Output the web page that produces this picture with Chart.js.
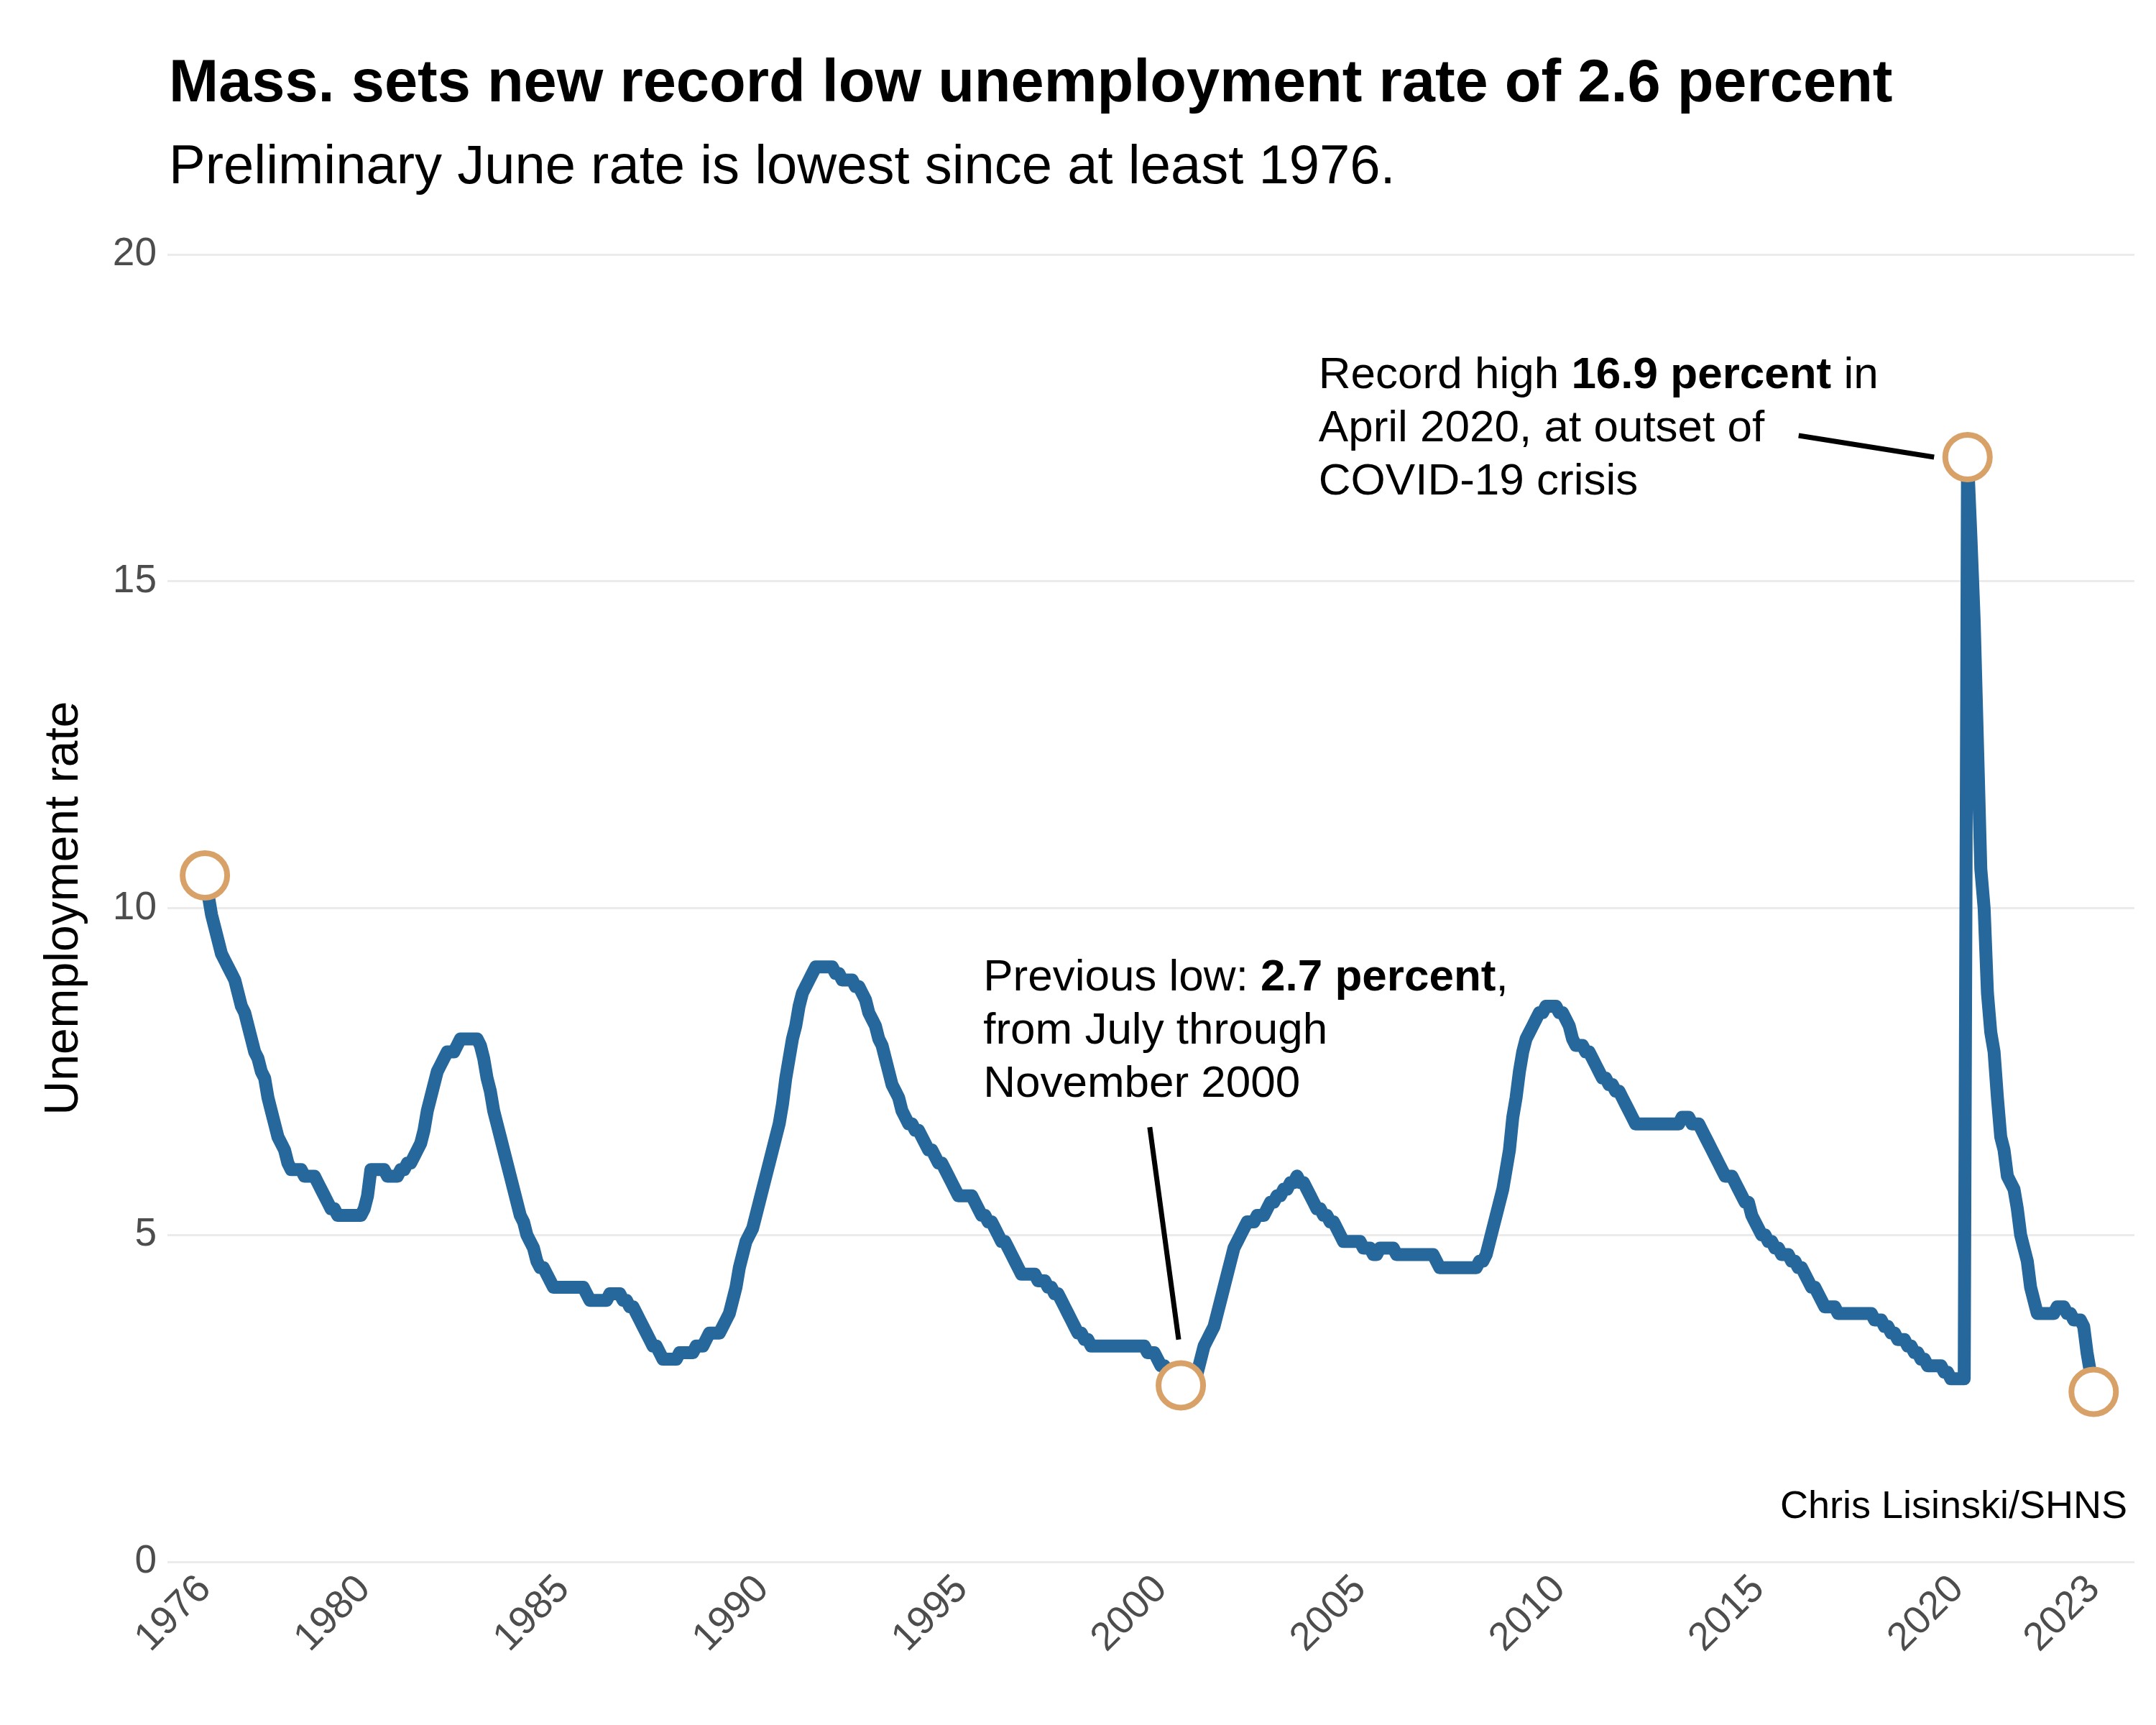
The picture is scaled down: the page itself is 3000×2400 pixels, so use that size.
<!DOCTYPE html>
<html>
<head>
<meta charset="utf-8">
<title>Mass. unemployment rate</title>
<script src="https://cdn.jsdelivr.net/npm/chart.js@4.4.0/dist/chart.umd.min.js"></script>
<style>
  html, body { margin: 0; padding: 0; background: #fff; overflow: hidden; }
  #wrap { position: relative; width: 3000px; height: 2400px; }
  canvas { display: block; }
</style>
</head>
<body>
<div id="wrap"><canvas id="rateChart"></canvas></div>
<script>
// Massachusetts unemployment rate, monthly, Jan 1976 - Jun 2023
const startYear = 1976;
const monthlyRates = [
  10.5, 10.2, 9.9, 9.7, 9.5, 9.3, 9.2, 9.1, 9.0, 8.9, 8.7, 8.5,   // 1976
  8.4, 8.2, 8.0, 7.8, 7.7, 7.5, 7.4, 7.1, 6.9, 6.7, 6.5, 6.4,     // 1977
  6.3, 6.1, 6.0, 6.0, 6.0, 6.0, 5.9, 5.9, 5.9, 5.9, 5.8, 5.7,     // 1978
  5.6, 5.5, 5.4, 5.4, 5.3, 5.3, 5.3, 5.3, 5.3, 5.3, 5.3, 5.3,     // 1979
  5.4, 5.6, 6.0, 6.0, 6.0, 6.0, 6.0, 5.9, 5.9, 5.9, 5.9, 6.0,     // 1980
  6.0, 6.1, 6.1, 6.2, 6.3, 6.4, 6.6, 6.9, 7.1, 7.3, 7.5, 7.6,     // 1981
  7.7, 7.8, 7.8, 7.8, 7.9, 8.0, 8.0, 8.0, 8.0, 8.0, 8.0, 7.9,     // 1982
  7.7, 7.4, 7.2, 6.9, 6.7, 6.5, 6.3, 6.1, 5.9, 5.7, 5.5, 5.3,     // 1983
  5.2, 5.0, 4.9, 4.8, 4.6, 4.5, 4.5, 4.4, 4.3, 4.2, 4.2, 4.2,     // 1984
  4.2, 4.2, 4.2, 4.2, 4.2, 4.2, 4.2, 4.1, 4.0, 4.0, 4.0, 4.0,     // 1985
  4.0, 4.0, 4.1, 4.1, 4.1, 4.1, 4.0, 4.0, 3.9, 3.9, 3.8, 3.7,     // 1986
  3.6, 3.5, 3.4, 3.3, 3.3, 3.2, 3.1, 3.1, 3.1, 3.1, 3.1, 3.2,     // 1987
  3.2, 3.2, 3.2, 3.2, 3.3, 3.3, 3.3, 3.4, 3.5, 3.5, 3.5, 3.5,     // 1988
  3.6, 3.7, 3.8, 4.0, 4.2, 4.5, 4.7, 4.9, 5.0, 5.1, 5.3, 5.5,     // 1989
  5.7, 5.9, 6.1, 6.3, 6.5, 6.7, 7.0, 7.4, 7.7, 8.0, 8.2, 8.5,     // 1990
  8.7, 8.8, 8.9, 9.0, 9.1, 9.1, 9.1, 9.1, 9.1, 9.1, 9.0, 9.0,     // 1991
  8.9, 8.9, 8.9, 8.9, 8.8, 8.8, 8.7, 8.6, 8.4, 8.3, 8.2, 8.0,     // 1992
  7.9, 7.7, 7.5, 7.3, 7.2, 7.1, 6.9, 6.8, 6.7, 6.7, 6.6, 6.6,     // 1993
  6.5, 6.4, 6.3, 6.3, 6.2, 6.1, 6.1, 6.0, 5.9, 5.8, 5.7, 5.6,     // 1994
  5.6, 5.6, 5.6, 5.6, 5.5, 5.4, 5.3, 5.3, 5.2, 5.2, 5.1, 5.0,     // 1995
  4.9, 4.9, 4.8, 4.7, 4.6, 4.5, 4.4, 4.4, 4.4, 4.4, 4.4, 4.3,     // 1996
  4.3, 4.3, 4.2, 4.2, 4.1, 4.1, 4.0, 3.9, 3.8, 3.7, 3.6, 3.5,     // 1997
  3.5, 3.4, 3.4, 3.3, 3.3, 3.3, 3.3, 3.3, 3.3, 3.3, 3.3, 3.3,     // 1998
  3.3, 3.3, 3.3, 3.3, 3.3, 3.3, 3.3, 3.3, 3.2, 3.2, 3.2, 3.1,     // 1999
  3.0, 3.0, 2.9, 2.9, 2.8, 2.8, 2.7, 2.7, 2.7, 2.7, 2.7, 2.9,     // 2000
  3.1, 3.3, 3.4, 3.5, 3.6, 3.8, 4.0, 4.2, 4.4, 4.6, 4.8, 4.9,     // 2001
  5.0, 5.1, 5.2, 5.2, 5.2, 5.3, 5.3, 5.3, 5.4, 5.5, 5.5, 5.6,     // 2002
  5.6, 5.7, 5.7, 5.8, 5.8, 5.9, 5.8, 5.8, 5.7, 5.6, 5.5, 5.4,     // 2003
  5.4, 5.3, 5.3, 5.2, 5.2, 5.1, 5.0, 4.9, 4.9, 4.9, 4.9, 4.9,     // 2004
  4.9, 4.8, 4.8, 4.8, 4.7, 4.7, 4.8, 4.8, 4.8, 4.8, 4.8, 4.7,     // 2005
  4.7, 4.7, 4.7, 4.7, 4.7, 4.7, 4.7, 4.7, 4.7, 4.7, 4.7, 4.6,     // 2006
  4.5, 4.5, 4.5, 4.5, 4.5, 4.5, 4.5, 4.5, 4.5, 4.5, 4.5, 4.5,     // 2007
  4.6, 4.6, 4.7, 4.9, 5.1, 5.3, 5.5, 5.7, 6.0, 6.3, 6.8, 7.1,     // 2008
  7.5, 7.8, 8.0, 8.1, 8.2, 8.3, 8.4, 8.4, 8.5, 8.5, 8.5, 8.5,     // 2009
  8.4, 8.4, 8.3, 8.2, 8.0, 7.9, 7.9, 7.9, 7.8, 7.8, 7.7, 7.6,     // 2010
  7.5, 7.4, 7.4, 7.3, 7.3, 7.2, 7.2, 7.1, 7.0, 6.9, 6.8, 6.7,     // 2011
  6.7, 6.7, 6.7, 6.7, 6.7, 6.7, 6.7, 6.7, 6.7, 6.7, 6.7, 6.7,     // 2012
  6.7, 6.8, 6.8, 6.8, 6.7, 6.7, 6.7, 6.6, 6.5, 6.4, 6.3, 6.2,     // 2013
  6.1, 6.0, 5.9, 5.9, 5.9, 5.8, 5.7, 5.6, 5.5, 5.5, 5.3, 5.2,     // 2014
  5.1, 5.0, 5.0, 4.9, 4.9, 4.8, 4.8, 4.7, 4.7, 4.7, 4.6, 4.6,     // 2015
  4.5, 4.5, 4.4, 4.3, 4.2, 4.2, 4.1, 4.0, 3.9, 3.9, 3.9, 3.9,     // 2016
  3.8, 3.8, 3.8, 3.8, 3.8, 3.8, 3.8, 3.8, 3.8, 3.8, 3.8, 3.7,     // 2017
  3.7, 3.7, 3.6, 3.6, 3.5, 3.5, 3.4, 3.4, 3.4, 3.3, 3.3, 3.2,     // 2018
  3.2, 3.1, 3.1, 3.0, 3.0, 3.0, 3.0, 3.0, 2.9, 2.9, 2.8, 2.8,     // 2019
  2.8, 2.8, 2.8, 16.9, 15.7, 14.4, 12.5, 10.6, 10.0, 8.7, 8.1, 7.8, // 2020
  7.1, 6.5, 6.3, 5.9, 5.8, 5.7, 5.4, 5.0, 4.8, 4.6, 4.2, 4.0,     // 2021
  3.8, 3.8, 3.8, 3.8, 3.8, 3.8, 3.9, 3.9, 3.9, 3.8, 3.8, 3.7,     // 2022
  3.7, 3.7, 3.6, 3.2, 2.9, 2.6                                     // 2023
];

// circled months: Jan 1976, Jul 2000, Apr 2020, Jun 2023
const highlightDates = [1976, 2000 + 6 / 12, 2020 + 3 / 12, 2023 + 5 / 12];
const highlightRates = [10.5, 2.7, 16.9, 2.6];

const yearTicks = [1976, 1980, 1985, 1990, 1995, 2000, 2005, 2010, 2015, 2020, 2023 + 5 / 12];
const yearTickLabels = ['1976', '1980', '1985', '1990', '1995', '2000', '2005', '2010', '2015', '2020', '2023'];
const rateTicks = [0, 5, 10, 15, 20];

const TITLE = 'Mass. sets new record low unemployment rate of 2.6 percent';
const SUBTITLE = 'Preliminary June rate is lowest since at least 1976.';
const CAPTION = 'Chris Lisinski/SHNS';

// annotation text: each line is a list of [text, bold] runs
const notes = [
  {
    at: [1995.54, 8.74],
    lines: [
      [['Previous low: ', false], ['2.7 percent', true], [',', false]],
      [['from July through', false]],
      [['November 2000', false]]
    ],
    pointer: [[1999.72, 6.65], [2000.445, 3.40]]
  },
  {
    at: [2003.96, 17.95],
    lines: [
      [['Record high ', false], ['16.9 percent', true], [' in', false]],
      [['April 2020, at outset of', false]],
      [['COVID-19 crisis', false]]
    ],
    pointer: [[2016.01, 17.23], [2019.41, 16.90]]
  }
];

const FONT = "'Liberation Sans', Arial, Helvetica, sans-serif";
const LINE_BLUE = '#26679C';
const CIRCLE_ORANGE = '#D8A168';

const series = monthlyRates.map((v, i) => ({ x: startYear + i / 12, y: v }));
const highlights = highlightDates.map((d, i) => ({ x: d, y: highlightRates[i] }));

const chartText = {
  id: 'chartText',
  afterDraw(chart) {
    const ctx = chart.ctx;
    const xs = chart.scales.x;
    const ys = chart.scales.y;
    const left = chart.chartArea.left + 2;
    ctx.save();
    ctx.fillStyle = '#000';
    ctx.textBaseline = 'alphabetic';
    ctx.textAlign = 'left';

    ctx.font = `bold 83px ${FONT}`;
    ctx.fillText(TITLE, left, 141);
    ctx.font = `76px ${FONT}`;
    ctx.fillText(SUBTITLE, left, 255);

    ctx.textAlign = 'right';
    ctx.font = `54px ${FONT}`;
    ctx.fillText(CAPTION, 2960, 2112);

    ctx.textAlign = 'left';
    notes.forEach(note => {
      ctx.strokeStyle = '#000';
      ctx.lineWidth = 7;
      ctx.beginPath();
      ctx.moveTo(xs.getPixelForValue(note.pointer[0][0]), ys.getPixelForValue(note.pointer[0][1]));
      ctx.lineTo(xs.getPixelForValue(note.pointer[1][0]), ys.getPixelForValue(note.pointer[1][1]));
      ctx.stroke();

      const x0 = xs.getPixelForValue(note.at[0]);
      let y = ys.getPixelForValue(note.at[1]);
      note.lines.forEach(line => {
        let x = x0;
        line.forEach(([txt, bold]) => {
          ctx.font = `${bold ? 'bold ' : ''}62px ${FONT}`;
          ctx.fillText(txt, x, y);
          x += ctx.measureText(txt).width;
        });
        y += 74;
      });
    });
    ctx.restore();
  }
};

new Chart(document.getElementById('rateChart'), {
  type: 'line',
  data: {
    datasets: [
      {
        type: 'scatter',
        data: highlights,
        pointRadius: 31,
        pointBorderWidth: 8,
        pointBackgroundColor: '#ffffff',
        pointBorderColor: CIRCLE_ORANGE,
        showLine: false,
        order: 0,
        clip: false
      },
      {
        data: series,
        borderColor: LINE_BLUE,
        borderWidth: 18,
        pointRadius: 0,
        tension: 0,
        borderJoinStyle: 'round',
        borderCapStyle: 'round',
        order: 1,
        clip: false
      }
    ]
  },
  options: {
    responsive: true,
    maintainAspectRatio: false,
    devicePixelRatio: 1,
    animation: false,
    events: [],
    layout: { autoPadding: false, padding: { top: 354, right: 30, bottom: 0, left: 0 } },
    plugins: {
      legend: { display: false },
      tooltip: { enabled: false }
    },
    scales: {
      x: {
        type: 'linear',
        min: 1975.06,
        max: 2024.44,
        afterBuildTicks: scale => { scale.ticks = yearTicks.map(v => ({ value: v })); },
        afterFit: scale => {
          scale.height = 227;
          scale.paddingLeft = 0;
          scale.paddingRight = 0;
        },
        grid: { display: false, drawTicks: false },
        border: { display: false },
        ticks: {
          autoSkip: false,
          minRotation: 45,
          maxRotation: 45,
          padding: 6,
          color: '#4D4D4D',
          font: { family: FONT, size: 55 },
          callback: (value, index) => yearTickLabels[index]
        }
      },
      y: {
        min: 0,
        max: 20,
        afterBuildTicks: scale => { scale.ticks = rateTicks.map(v => ({ value: v })); },
        afterFit: scale => { scale.width = 233; },
        grid: { color: '#EBEBEB', lineWidth: 3, drawTicks: false },
        border: { display: false },
        ticks: {
          padding: 15,
          color: '#4D4D4D',
          font: { family: FONT, size: 55 }
        },
        title: {
          display: true,
          text: 'Unemployment rate',
          color: '#000',
          font: { family: FONT, size: 66 },
          padding: { top: 50, bottom: 0 }
        }
      }
    }
  },
  plugins: [chartText]
});
</script>
</body>
</html>
